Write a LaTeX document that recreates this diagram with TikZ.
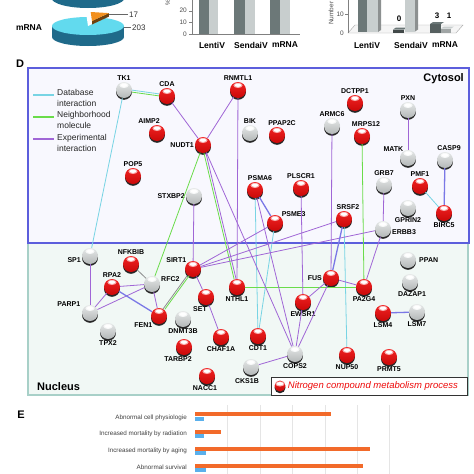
\documentclass[tikz,border=0pt]{standalone}
\usepackage{fontspec}
\setmainfont{Liberation Sans}
\usepackage{tikz}
\usetikzlibrary{positioning, calc}
\definecolor{CytoLine}{HTML}{5C5EDC}
\definecolor{CytoFill}{HTML}{F8F8FE}
\definecolor{NucLine}{HTML}{A8D0C8}
\definecolor{NucFill}{HTML}{F1F8F5}
\definecolor{NodeRed}{HTML}{EE0A0A}
\definecolor{NodeGray}{HTML}{D4D8D8}
\definecolor{DbCyan}{HTML}{78D4E4}
\definecolor{NbGreen}{HTML}{6ADC4A}
\definecolor{ExPurple}{HTML}{A066D6}
\definecolor{MixBlue}{HTML}{7A78E6}
\definecolor{PieTeal}{HTML}{1F6A8A}
\definecolor{PieCyan}{HTML}{62DAEE}
\definecolor{PieOrange}{HTML}{F2901E}
\definecolor{BarDark}{HTML}{6C7878}
\definecolor{BarLight}{HTML}{C8CECE}
\definecolor{BarOrange}{HTML}{F26A2A}
\definecolor{BarBlue}{HTML}{5AB0EC}
\tikzset{
  % Ball styles
  ballbase/.style={circle, minimum size=16pt, inner sep=0pt, preaction={fill=black!85, transform canvas={yshift=-1.8pt}}},
  redball/.style={ballbase, top color=NodeRed!90!white, bottom color=NodeRed!85!black,
    path picture={
      \fill[NodeRed!35!white] ([yshift=-3.4pt]path picture bounding box.north) ellipse [x radius=4.6pt, y radius=2.6pt];
      \fill[white] ([yshift=-3.2pt]path picture bounding box.north) ellipse [x radius=3.2pt, y radius=1.7pt];}},
  grayball/.style={ballbase, top color=NodeGray!60!white, bottom color=NodeGray!85!black,
    path picture={
      \fill[white!80!NodeGray] ([yshift=-3.4pt]path picture bounding box.north) ellipse [x radius=4.6pt, y radius=2.6pt];
      \fill[white] ([yshift=-3.2pt]path picture bounding box.north) ellipse [x radius=3.2pt, y radius=1.7pt];}},
  genelab/.style={font=\bfseries\fontsize{7}{8}\selectfont, inner sep=0.8pt},
  % Edge styles
  dbedge/.style={DbCyan, line width=0.8pt},
  nbedge/.style={NbGreen, line width=0.8pt},
  exedge/.style={ExPurple, line width=0.8pt},
  mixedge/.style={MixBlue, line width=1.3pt},
  gredge/.style={black!45, line width=0.8pt},
  % Text styles
  axislab/.style={font=\bfseries\fontsize{8.5}{9}\selectfont, inner sep=0pt},
  ticklab/.style={font=\fontsize{6.5}{7}\selectfont, text=black!70, inner sep=0pt},
  legtext/.style={font=\fontsize{8.5}{11}\selectfont, align=left, inner sep=0pt, anchor=west, text=black!85},
  phenolab/.style={font=\fontsize{6.3}{7}\selectfont, text=black!75, inner sep=0pt, anchor=east},
  panellab/.style={font=\bfseries\fontsize{11}{12}\selectfont, inner sep=0pt}
}

\begin{document}
\begin{tikzpicture}[x=1pt, y=-1pt]
  \useasboundingbox (0,0) rectangle (474,474);
  \clip (0,0) rectangle (474,474);
  \fill[white] (0,0) rectangle (474,474);

  % Pie charts (cut)
  \fill[PieTeal] (51.5,-14) rectangle (124.5,-2);
  \fill[PieTeal] (88,-2) ellipse [x radius=36.5, y radius=10];
  \fill[PieTeal] (52,26) rectangle (124,37);
  \fill[PieTeal] (88,37) ellipse [x radius=36, y radius=9];
  \fill[PieCyan] (88,26) ellipse [x radius=36, y radius=9];
  \fill[white] (88,26) -- (86.7,17) -- (104.9,18.1) -- cycle;
  \fill[PieOrange!45!black] (92,21) -- (108.9,13.1) -- (108.9,16.6) -- (92,24.5) -- cycle;
  \fill[PieOrange] (92,21) -- (90.7,12) -- (108.9,13.1) -- cycle;
  \draw[black!60, line width=0.4pt] (109,14.5) -- (128,14.5);
  \draw[black!60, line width=0.4pt] (124,27.5) -- (131,27.5);
  \node[ticklab, font=\fontsize{8}{9}\selectfont, text=black!80, anchor=west] (n17) at (129,15) {17};
  \node[ticklab, font=\fontsize{8}{9}\selectfont, text=black!80, anchor=west] (n203) at (132,28) {203};
  \node[axislab] (piename) at (29,27.5) {mRNA};

  % Percent bars
  \node[ticklab, rotate=90] (pcty) at (168,3) {\%};
  \draw[black!50, line width=0.4pt] (192,0) -- (192,34) -- (300,34);
  \foreach \ty/\tv in {10.7/20, 22.4/10, 34/0}{
    \draw[black!50, line width=0.4pt] (189,\ty) -- (192,\ty);
    \node[ticklab, anchor=east] at (187,\ty) {\tv};
  }
  \fill[BarDark] (199,0) rectangle (208.5,34);
  \fill[BarLight] (208.5,0) rectangle (218,34);
  \fill[BarDark] (234,0) rectangle (245,34);
  \fill[BarLight] (245,0) rectangle (255,34);
  \fill[BarDark] (270,0) rectangle (280,34);
  \fill[BarLight] (280,0) rectangle (290,34);
  \node[axislab] (pl1) at (212,45) {LentiV};
  \node[axislab] (pl2) at (251,45) {SendaiV};
  \node[axislab] (pl3) at (285,45) {mRNA};

  % Number bars
  \node[ticklab, rotate=90, anchor=west] (numy) at (331,25) {Number};
  \draw[black!35, line width=0.4pt, fill=black!4] (348,33) -- (456,33) -- (463,25) -- (355,25) -- cycle;
  \draw[black!50, line width=0.4pt] (348,0) -- (348,33);
  \draw[black!50, line width=0.4pt] (345,14) -- (348,14);
  \node[ticklab, anchor=east] (nt10) at (344,14) {10};
  \node[ticklab, anchor=east] (nt0) at (344,33) {0};
  \fill[BarDark] (358,0) rectangle (367,32);
  \fill[BarLight] (367,0) rectangle (378,32);
  \fill[BarLight!70!black] (378,0) -- (381,0) -- (381,30) -- (378,32) -- cycle;
  \fill[BarDark!60!black] (393,29.5) rectangle (404,32.5);
  \fill[BarDark] (393,29.5) -- (396,27.5) -- (407,27.5) -- (404,29.5) -- cycle;
  \fill[BarLight] (405,0) rectangle (415,31.5);
  \fill[BarLight!70!black] (415,0) -- (418,0) -- (418,29.5) -- (415,31.5) -- cycle;
  \fill[BarDark!80!black] (430,24) rectangle (441,33);
  \fill[BarDark] (430,24) -- (433,22) -- (444,22) -- (441,24) -- cycle;
  \fill[BarLight!80!black] (441,28.5) rectangle (451,32.5);
  \fill[BarLight] (441,28.5) -- (444,26.5) -- (454,26.5) -- (451,28.5) -- cycle;
  \node[axislab, font=\bfseries\fontsize{8}{9}\selectfont] (v0) at (399,19) {0};
  \node[axislab, font=\bfseries\fontsize{8}{9}\selectfont] (v3) at (437,16) {3};
  \node[axislab, font=\bfseries\fontsize{8}{9}\selectfont] (v1) at (449,16) {1};
  \node[axislab] (nl1) at (367,45) {LentiV};
  \node[axislab] (nl2) at (411,45) {SendaiV};
  \node[axislab] (nl3) at (445,45) {mRNA};

  % Panel D compartments
  \node[panellab] (paneld) at (20,64) {D};
  \filldraw[fill=NucFill, draw=NucLine, line width=1.5pt] (28,243) rectangle (468,395);
  \filldraw[fill=CytoFill, draw=CytoLine, line width=1.3pt] (28,68) rectangle (469,243);
  \node[panellab, anchor=east] (cytosol) at (464,79) {Cytosol};
  \node[panellab, anchor=west] (nucleus) at (37,387) {Nucleus};

  % Legend
  \draw[dbedge, line width=1.2pt] (33,95) -- (54,95);
  \draw[nbedge, line width=1.2pt] (33,117) -- (54,117);
  \draw[exedge, line width=1.2pt] (33,139) -- (54,139);
  \node[legtext] (legdb) at (57,97.5) {Database\\interaction};
  \node[legtext] (legnb) at (57,119.5) {Neighborhood\\molecule};
  \node[legtext] (legex) at (57,143) {Experimental\\interaction};

  % Cytosol genes
  \node[grayball, label={[genelab]above:TK1}] (tk1) at (124,90) {};
  \node[redball, label={[genelab]above:CDA}] (cda) at (167,96) {};
  \node[redball, label={[genelab]above:RNMTL1}] (rnmtl1) at (238,90) {};
  \node[redball, label={[genelab, xshift=-8pt]above:AIMP2}] (aimp2) at (157,133) {};
  \node[redball, label={[genelab]left:NUDT1}] (nudt1) at (203,145) {};
  \node[redball, label={[genelab]above:POP5}] (pop5) at (133,176) {};
  \node[grayball, label={[genelab]above:BIK}] (bik) at (250,133) {};
  \node[redball, label={[genelab, xshift=5pt]above:PPAP2C}] (ppap2c) at (277,135) {};
  \node[redball, label={[genelab]above:DCTPP1}] (dctpp1) at (355,103) {};
  \node[grayball, label={[genelab]above:ARMC6}] (armc6) at (332,126) {};
  \node[redball, label={[genelab, xshift=4pt]above:MRPS12}] (mrps12) at (362,136) {};
  \node[grayball, label={[genelab]above:PXN}] (pxn) at (408,110) {};
  \node[grayball, label={[genelab, xshift=2pt]above left:MATK}] (matk) at (408,158) {};
  \node[grayball, label={[genelab, xshift=4pt]above:CASP9}] (casp9) at (445,160) {};
  \node[redball, label={[genelab, xshift=5pt]above:PSMA6}] (psma6) at (255,190) {};
  \node[redball, label={[genelab]above:PLSCR1}] (plscr1) at (301,188) {};
  \node[redball, label={[genelab]above right:PSME3}] (psme3) at (275,223) {};
  \node[grayball, label={[genelab]left:STXBP2}] (stxbp2) at (194,196) {};
  \node[grayball, label={[genelab]above:GRB7}] (grb7) at (384,185) {};
  \node[redball, label={[genelab]above:PMF1}] (pmf1) at (420,186) {};
  \node[grayball, label={[genelab]below:GPRIN2}] (gprin2) at (408,208) {};
  \node[grayball, label={[genelab, yshift=-3pt]right:ERBB3}] (erbb3) at (383,229) {};
  \node[redball, label={[genelab]below:BIRC5}] (birc5) at (444,213) {};
  \node[redball, label={[genelab, xshift=4pt]above:SRSF2}] (srsf2) at (344,219) {};

  % Nucleus genes
  \node[grayball, label={[genelab, yshift=-4pt]left:SP1}] (sp1) at (90,256) {};
  \node[redball, label={[genelab]above:NFKBIB}] (nfkbib) at (131,264) {};
  \node[redball, label={[genelab]above:RPA2}] (rpa2) at (112,287) {};
  \node[grayball, label={[genelab, yshift=5pt]right:RFC2}] (rfc2) at (152,284) {};
  \node[redball, label={[genelab]above left:SIRT1}] (sirt1) at (193,269) {};
  \node[grayball, label={[genelab, xshift=-3pt]above left:PARP1}] (parp1) at (90,313) {};
  \node[redball, label={[genelab]below left:FEN1}] (fen1) at (159,316) {};
  \node[redball, label={[genelab, xshift=-6pt]below:SET}] (set) at (206,297) {};
  \node[redball, label={[genelab]below:NTHL1}] (nthl1) at (237,287) {};
  \node[grayball, label={[genelab]below:DNMT3B}] (dnmt3b) at (183,319) {};
  \node[grayball, label={[genelab]below:TPX2}] (tpx2) at (108,331) {};
  \node[redball, label={[genelab]below:CHAF1A}] (chaf1a) at (221,337) {};
  \node[redball, label={[genelab, xshift=-6pt]below:TARBP2}] (tarbp2) at (184,347) {};
  \node[redball, label={[genelab, xshift=-2pt]below:NACC1}] (nacc1) at (207,376) {};
  \node[redball, label={[genelab]below:CDT1}] (cdt1) at (258,336) {};
  \node[grayball, label={[genelab, xshift=-4pt, yshift=-2pt]below:CKS1B}] (cks1b) at (251,367) {};
  \node[grayball, label={[genelab]below:COPS2}] (cops2) at (295,354) {};
  \node[redball, label={[genelab]left:FUS}] (fus) at (331,278) {};
  \node[redball, label={[genelab]below:EWSR1}] (ewsr1) at (303,302) {};
  \node[redball, label={[genelab]below:PA2G4}] (pa2g4) at (364,287) {};
  \node[grayball, label={[genelab, xshift=2pt]right:PPAN}] (ppan) at (408,260) {};
  \node[grayball, label={[genelab, xshift=2pt]below:DAZAP1}] (dazap1) at (410,282) {};
  \node[redball, label={[genelab]below:LSM4}] (lsm4) at (383,313) {};
  \node[grayball, label={[genelab]below:LSM7}] (lsm7) at (417,312) {};
  \node[redball, label={[genelab]below:NUP50}] (nup50) at (347,355) {};
  \node[redball, label={[genelab]below:PRMT5}] (prmt5) at (389,357) {};

  % Database interactions
  \draw[dbedge, transform canvas={yshift=1pt}] (tk1) -- (cda);
  \draw[dbedge] (tk1) -- (sp1);
  \draw[dbedge] (psma6) -- (cdt1);
  \draw[dbedge] (psme3) -- (cdt1);
  \draw[dbedge] (srsf2) -- (nup50);
  \draw[dbedge] (pmf1) -- (birc5);

  % Neighborhood molecules
  \draw[nbedge, transform canvas={yshift=-1pt}] (tk1) -- (cda);
  \draw[nbedge] (nudt1) -- (rfc2);
  \draw[nbedge, transform canvas={xshift=-1pt}] (nudt1) -- (nthl1);
  \draw[nbedge] (nthl1) -- (pa2g4);
  \draw[nbedge] (mrps12) -- (pa2g4);
  \draw[nbedge, transform canvas={xshift=1pt}] (sirt1) -- (fen1);

  % Experimental interactions
  \draw[exedge] (cda) -- (nudt1);
  \draw[exedge] (rnmtl1) -- (nudt1);
  \draw[exedge] (rnmtl1) -- (nthl1);
  \draw[exedge, transform canvas={xshift=1pt}] (nudt1) -- (nthl1);
  \draw[exedge] (nudt1) -- (cops2);
  \draw[exedge] (psma6) -- (cops2);
  \draw[exedge] (plscr1) -- (ewsr1);
  \draw[exedge] (armc6) -- (fus);
  \draw[exedge] (fus) -- (pa2g4);
  \draw[exedge] (fus) -- (ewsr1);
  \draw[exedge] (fus) -- (cops2);
  \draw[exedge] (ewsr1) -- (cops2);
  \draw[exedge] (erbb3) -- (pa2g4);
  \draw[exedge] (grb7) -- (erbb3);
  \draw[exedge] (pxn) -- (matk);
  \draw[exedge] (stxbp2) -- (sirt1);
  \draw[exedge] (sirt1) -- (set);
  \draw[exedge] (set) -- (chaf1a);
  \draw[exedge] (sirt1) -- (psme3);
  \draw[exedge] (sirt1) -- (srsf2);
  \draw[exedge] (sirt1) -- (erbb3);
  \draw[exedge] (rpa2) -- (rfc2);
  \draw[exedge] (rfc2) -- (fen1);
  \draw[exedge] (parp1) -- (sp1);
  \draw[exedge] (parp1) -- (rpa2);
  \draw[exedge] (parp1) -- (rfc2);
  \draw[exedge] (cops2) -- (cks1b);

  % Combined interactions
  \draw[mixedge] (psma6) -- (psme3);
  \draw[mixedge] (rpa2) -- (fen1);
  \draw[mixedge] (srsf2) -- (fus);
  \draw[mixedge] (casp9) -- (birc5);
  \draw[mixedge] (lsm4) -- (lsm7);
  \draw[gredge] (nfkbib) -- (rfc2);
  \draw[gredge, transform canvas={xshift=-1pt}] (sirt1) -- (fen1);

  % Process legend
  \draw[black!80, fill=white, line width=0.8pt] (271,377) rectangle (467,395);
  \node[redball, minimum size=11pt] (nitroball) at (280,386) {};
  \node[right=2pt of nitroball, inner sep=0pt, text=NodeRed, font=\itshape\fontsize{9.5}{10}\selectfont] (nitrotext) {Nitrogen compound metabolism process};

  % Panel E
  \node[panellab] (panele) at (21,415) {E};
  \foreach \gx in {227,260,292,325,357,389}{
    \draw[black!10, line width=0.4pt] (\gx,405) -- (\gx,474);
  }
  \fill[BarOrange] (195,412) rectangle (331,416);
  \fill[BarBlue] (195,417) rectangle (204,421);
  \fill[BarOrange] (195,430) rectangle (221,434);
  \fill[BarBlue] (195,434) rectangle (204,438);
  \fill[BarOrange] (195,447) rectangle (370,451);
  \fill[BarBlue] (195,451) rectangle (206,455);
  \fill[BarOrange] (195,464) rectangle (363,468);
  \fill[BarBlue] (195,468) rectangle (206,472);
  \node[phenolab] (ph1) at (187,418) {Abnormal cell physiologie};
  \node[phenolab] (ph2) at (187,434) {Increased mortality by radiation};
  \node[phenolab] (ph3) at (187,451) {Increased mortality by aging};
  \node[phenolab] (ph4) at (187,467) {Abnormal survival};
\end{tikzpicture}
\end{document}
